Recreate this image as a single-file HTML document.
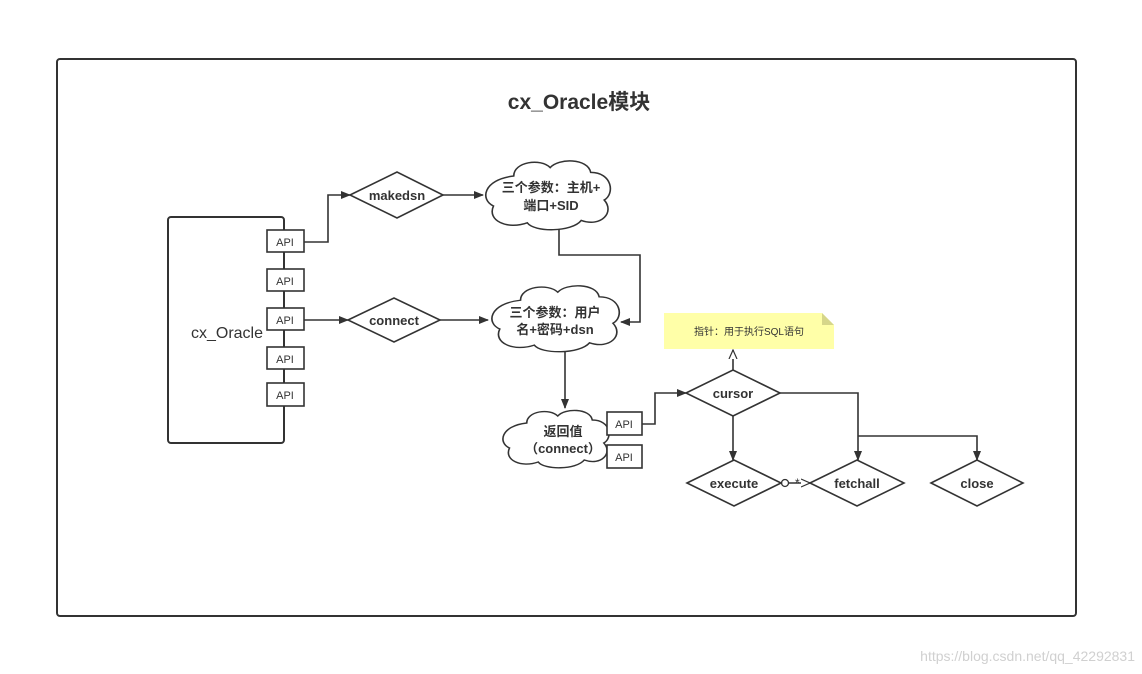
<!DOCTYPE html>
<html><head><meta charset="utf-8"><style>
html,body{margin:0;padding:0;background:#fff}
svg{display:block}
text{font-family:"Liberation Sans","Noto Sans CJK SC",sans-serif;fill:#333}
.b{font-weight:bold;font-size:13px}
</style></head><body>
<svg width="1142" height="674" viewBox="0 0 1142 674" xmlns="http://www.w3.org/2000/svg">
<defs>
<marker id="ar" markerWidth="10" markerHeight="10" refX="9" refY="5" orient="auto" markerUnits="userSpaceOnUse"><path d="M0,1 L10,5 L0,9 Z" fill="#333"/></marker>
<marker id="oa" markerWidth="10" markerHeight="12" refX="9" refY="6" orient="auto" markerUnits="userSpaceOnUse"><path d="M0,2 L9,6 L0,10" fill="#fff" stroke="#333" stroke-width="1.2"/></marker>
<path id="cloud" d="M25,15 C25,3 45,0 52,8 C58,0 80,0 82,12 C98,12 100,30 92,35 C100,45 90,58 75,52 C68,62 40,62 35,54 C20,60 5,52 10,40 C0,35 2,18 25,15 Z"/>
</defs>
<rect x="57" y="59" width="1019" height="557" rx="3" fill="#fff" stroke="#333" stroke-width="2"/>
<text x="579" y="109" text-anchor="middle" font-size="21" font-weight="bold">cx_Oracle模块</text>

<g stroke="#333" stroke-width="1.6" fill="none">
<rect x="168" y="217" width="116" height="226" rx="3" fill="#fff" stroke-width="2"/>
<polyline points="304,242 328,242 328,195 350,195" marker-end="url(#ar)"/>
<line x1="443" y1="195" x2="483" y2="195" marker-end="url(#ar)"/>
<line x1="304" y1="320" x2="348" y2="320" marker-end="url(#ar)"/>
<line x1="440" y1="320" x2="488" y2="320" marker-end="url(#ar)"/>
<polyline points="559,228 559,255 640,255 640,322 621,322" marker-end="url(#ar)"/>
<line x1="565" y1="352" x2="565" y2="408" marker-end="url(#ar)"/>
<polyline points="642,424 655,424 655,393 686,393" marker-end="url(#ar)"/>
<line x1="733" y1="416" x2="733" y2="460" marker-end="url(#ar)"/>
<polyline points="780,393 858,393 858,460" marker-end="url(#ar)"/>
<polyline points="858,436 977,436 977,460" marker-end="url(#ar)"/>
<line x1="733" y1="370" x2="733" y2="350" marker-end="url(#oa)"/>
<line x1="781" y1="483" x2="810" y2="483" marker-end="url(#oa)"/>
</g>
<circle cx="785" cy="483" r="3.5" fill="#fff" stroke="#333" stroke-width="1.3"/>
<text x="795" y="487" font-size="12" fill="#333">*</text>

<g fill="#fff" stroke="#333" stroke-width="1.6">
<rect x="267" y="230" width="37" height="22"/>
<rect x="267" y="269" width="37" height="22"/>
<rect x="267" y="308" width="37" height="22"/>
<rect x="267" y="347" width="37" height="22"/>
<rect x="267" y="383" width="37" height="23"/>
<polygon points="350,195 397,172 443,195 397,218"/>
<polygon points="348,320 394,298 440,320 394,342"/>
<polygon points="686,393 733,370 780,393 733,416"/>
<polygon points="687,483 734,460 781,483 734,506"/>
<polygon points="810,483 857,460 904,483 857,506"/>
<polygon points="931,483 977,460 1023,483 977,506"/>
<use href="#cloud" transform="translate(480,158) scale(1.35,1.2)" vector-effect="non-scaling-stroke" stroke-width="1.2"/>
<use href="#cloud" transform="translate(486,283) scale(1.38,1.15)" stroke-width="1.2"/>
<use href="#cloud" transform="translate(498,408) scale(1.15,1.0)" stroke-width="1.4"/>
<rect x="607" y="412" width="35" height="23"/>
<rect x="607" y="445" width="35" height="23"/>
</g>
<path d="M664,313 L822,313 L834,325 L834,349 L664,349 Z" fill="#ffff99" fill-opacity="0.85"/>
<path d="M822,313 L834,325 L822,325 Z" fill="#d6d68a"/>
<text x="749" y="335" text-anchor="middle" font-size="10">指针：用于执行SQL语句</text>

<g font-size="11" text-anchor="middle">
<text x="285" y="246">API</text><text x="285" y="285">API</text><text x="285" y="324">API</text><text x="285" y="363">API</text><text x="285" y="399">API</text>
<text x="624" y="428">API</text><text x="624" y="461">API</text>
</g>
<text x="227" y="338" text-anchor="middle" font-size="16">cx_Oracle</text>
<g class="b" text-anchor="middle">
<text x="397" y="200">makedsn</text>
<text x="394" y="325">connect</text>
<text x="733" y="398">cursor</text>
<text x="734" y="488">execute</text>
<text x="857" y="488">fetchall</text>
<text x="977" y="488">close</text>
<text x="551" y="192">三个参数：主机+</text>
<text x="551" y="210">端口+SID</text>
<text x="555" y="317">三个参数：用户</text>
<text x="555" y="334">名+密码+dsn</text>
<text x="563" y="436">返回值</text>
<text x="563" y="453">（connect）</text>
</g>
<text x="1135" y="661" text-anchor="end" font-size="14" fill="#ccc" style="fill:#d0d0d0">https://blog.csdn.net/qq_42292831</text>
</svg>
</body></html>
